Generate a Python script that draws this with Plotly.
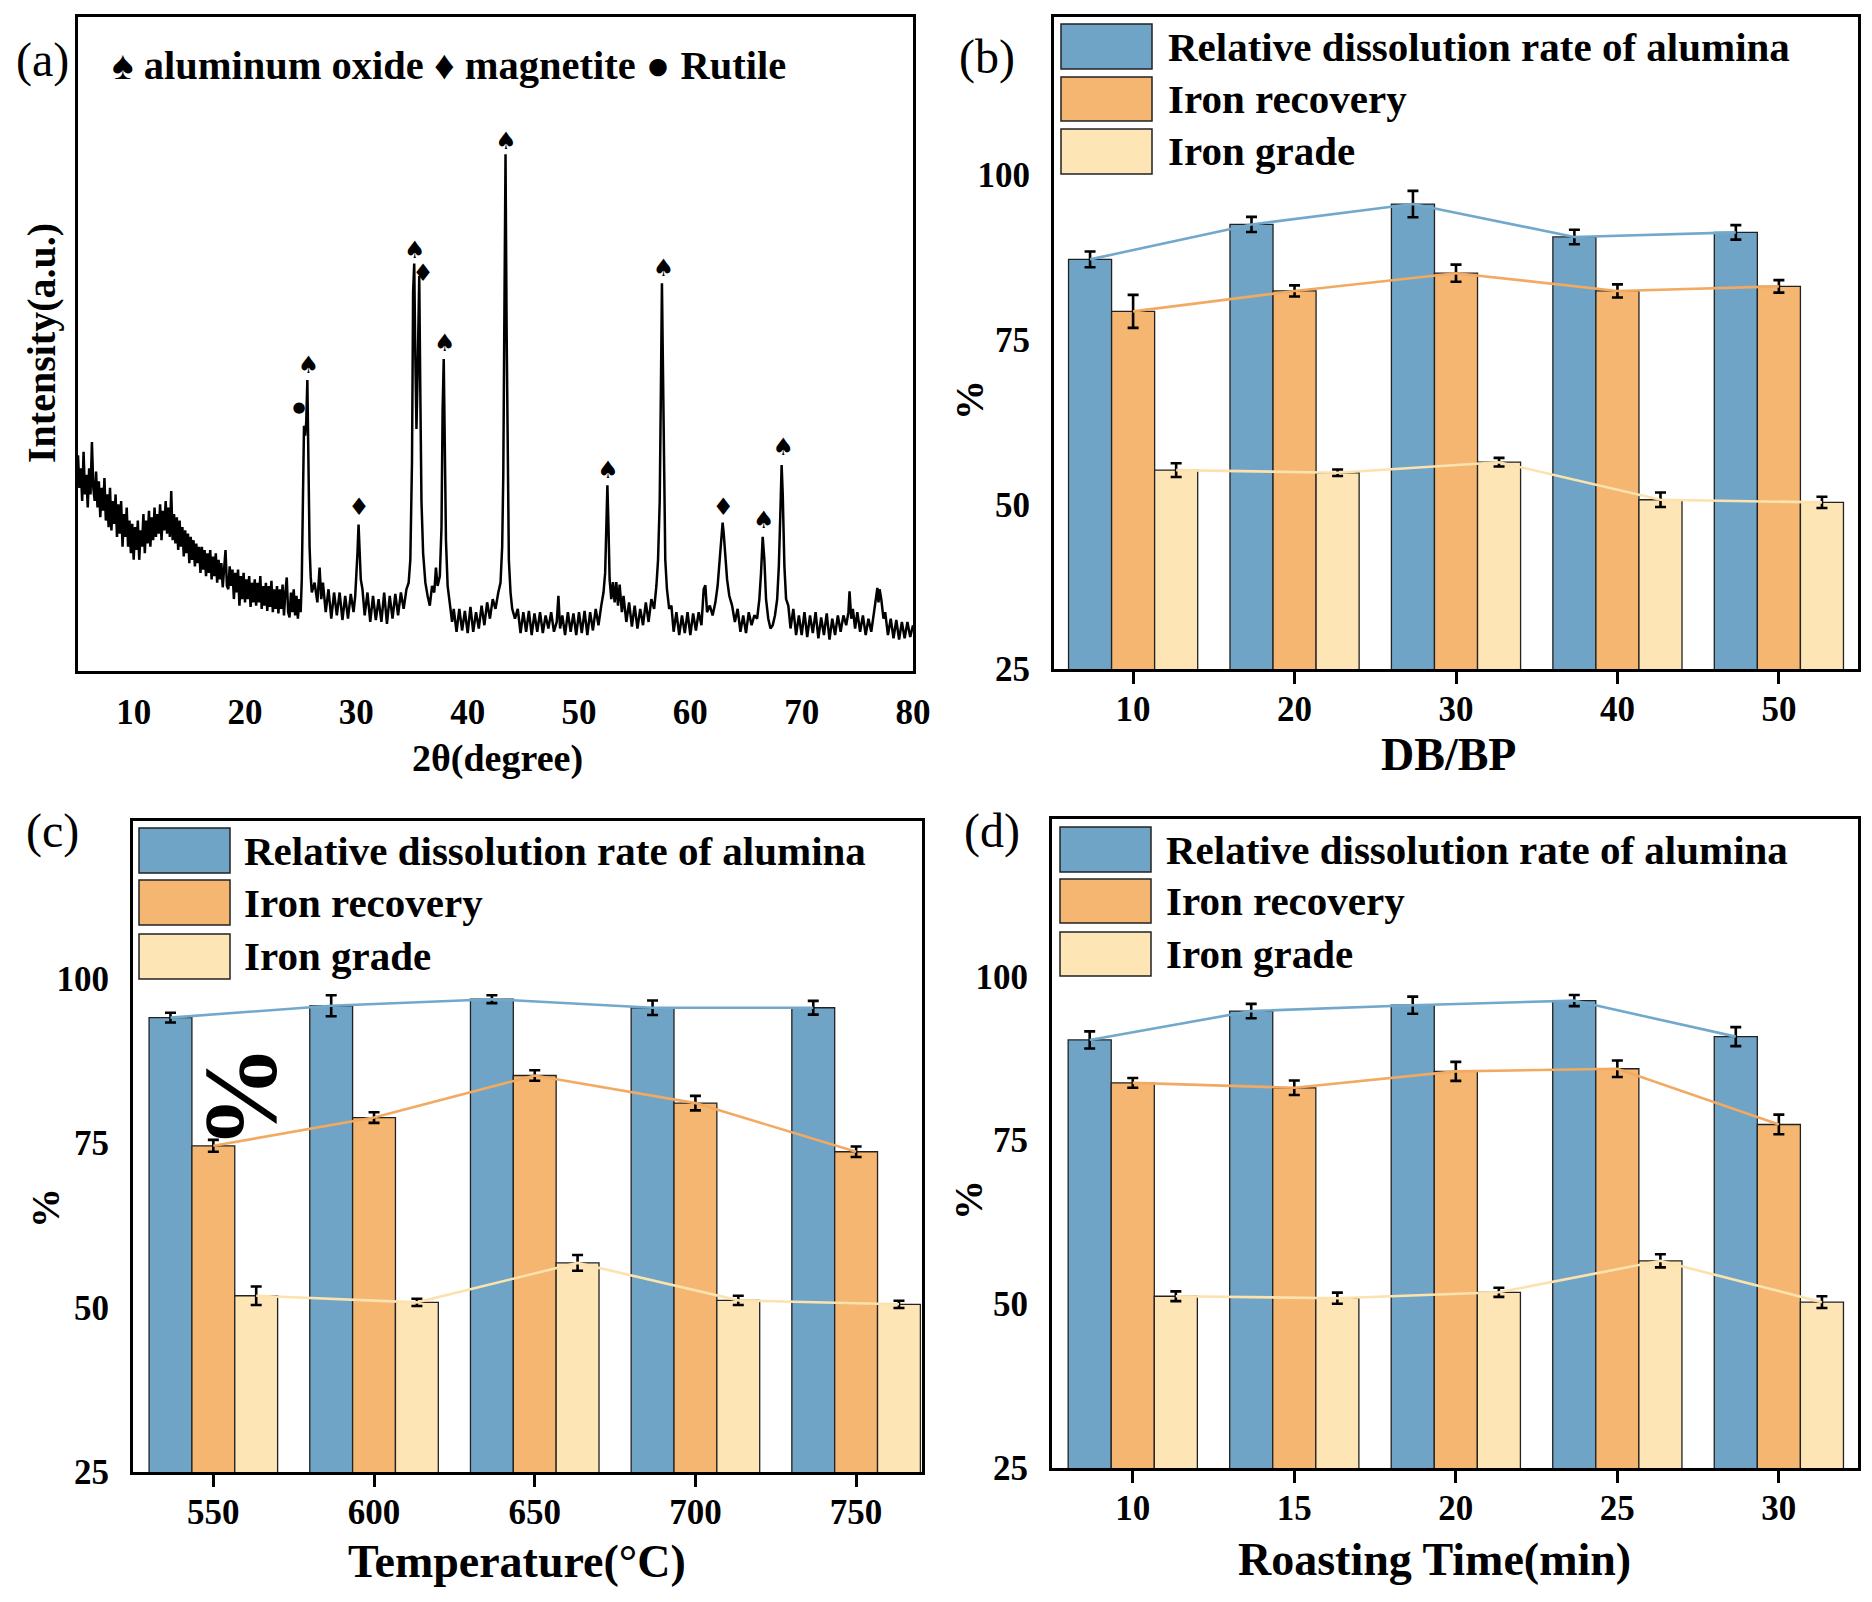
import plotly.graph_objects as go

# ---------------- DATA ----------------
# (a) XRD pattern (intensity in arbitrary units, frame = 0..100)
two_theta = [
    5.000, 5.125, 5.250, 5.375, 5.500, 5.625, 5.750, 5.875,
    6.000, 6.125, 6.250, 6.375, 6.500, 6.625, 6.750, 6.875,
    7.000, 7.125, 7.250, 7.375, 7.500, 7.625, 7.750, 7.875,
    8.000, 8.125, 8.250, 8.375, 8.500, 8.625, 8.750, 8.875,
    9.000, 9.125, 9.250, 9.375, 9.500, 9.625, 9.750, 9.875,
    10.000, 10.125, 10.250, 10.375, 10.500, 10.625, 10.750, 10.875,
    11.000, 11.125, 11.250, 11.375, 11.500, 11.625, 11.750, 11.875,
    12.000, 12.125, 12.250, 12.375, 12.500, 12.625, 12.750, 12.875,
    13.000, 13.125, 13.250, 13.375, 13.500, 13.625, 13.750, 13.875,
    14.000, 14.125, 14.250, 14.375, 14.500, 14.625, 14.750, 14.875,
    15.000, 15.125, 15.250, 15.375, 15.500, 15.625, 15.750, 15.875,
    16.000, 16.125, 16.250, 16.375, 16.500, 16.625, 16.750, 16.875,
    17.000, 17.125, 17.250, 17.375, 17.500, 17.625, 17.750, 17.875,
    18.000, 18.125, 18.250, 18.375, 18.500, 18.625, 18.750, 18.875,
    19.000, 19.125, 19.250, 19.375, 19.500, 19.625, 19.750, 19.875,
    20.000, 20.125, 20.250, 20.375, 20.500, 20.625, 20.750, 20.875,
    21.000, 21.125, 21.250, 21.375, 21.500, 21.625, 21.750, 21.875,
    22.000, 22.125, 22.250, 22.375, 22.500, 22.625, 22.750, 22.875,
    23.000, 23.125, 23.250, 23.375, 23.500, 23.625, 23.750, 23.875,
    24.000, 24.125, 24.250, 24.375, 24.500, 24.625, 24.750, 24.875,
    25.00,
    25.10, 25.20, 25.30, 25.40, 25.50, 25.60, 25.70, 25.80, 25.90, 26.00, 26.25, 26.50, 26.70, 26.85,
    27.00, 27.25, 27.50, 27.75, 28.00, 28.25, 28.50, 28.75, 29.00, 29.25, 29.50, 29.75,
    29.90, 30.00, 30.10, 30.20, 30.30, 30.40, 30.55, 30.75, 31.00, 31.25, 31.50, 31.75, 32.00, 32.25,
    32.50, 32.75, 33.00, 33.25, 33.50, 33.75, 34.00, 34.25, 34.50,
    34.70, 34.85, 35.00, 35.10, 35.20, 35.30, 35.40, 35.50, 35.65, 35.75, 35.85, 36.00, 36.20, 36.40,
    36.60, 36.80, 37.00, 37.15, 37.30, 37.50, 37.65, 37.75, 37.85, 37.95, 38.05, 38.20, 38.40, 38.60,
    38.75, 39.00, 39.25, 39.50, 39.75, 40.00, 40.25, 40.50, 40.75, 41.00, 41.25, 41.50, 41.75, 42.00,
    42.25, 42.50, 42.75,
    42.95, 43.10, 43.20, 43.30, 43.40, 43.50, 43.60, 43.70, 43.85, 44.00, 44.25,
    44.50, 44.75, 45.00, 45.25, 45.50, 45.75, 46.00, 46.25, 46.50, 46.75, 47.00, 47.25, 47.50, 47.75,
    48.00, 48.15, 48.30, 48.50, 48.75, 49.00, 49.25, 49.50, 49.75, 50.00, 50.25, 50.50, 50.75, 51.00,
    51.25, 51.50, 51.75, 52.00,
    52.20, 52.35, 52.45, 52.55, 52.65, 52.75, 52.90, 53.05, 53.20, 53.35, 53.50, 53.65, 53.85, 54.00,
    54.25, 54.50, 54.75, 55.00, 55.25, 55.50, 55.75, 56.00, 56.25, 56.50, 56.75,
    56.95, 57.10, 57.25, 57.35, 57.45, 57.55, 57.65, 57.75, 57.90, 58.10, 58.30, 58.50, 58.75, 59.00,
    59.25, 59.50, 59.75, 60.00, 60.25, 60.50, 60.75, 61.00,
    61.20, 61.35, 61.50, 61.75, 62.00, 62.25, 62.45, 62.60, 62.75, 62.90, 63.00, 63.15, 63.30, 63.50,
    63.75, 64.00, 64.25, 64.50, 64.75, 65.00, 65.25, 65.50, 65.75, 66.00,
    66.20, 66.35, 66.50, 66.65, 66.80, 67.00, 67.20, 67.40, 67.60, 67.80, 67.95, 68.10, 68.20, 68.30,
    68.45, 68.60, 68.80,
    69.00, 69.25, 69.50, 69.75, 70.00, 70.25, 70.50, 70.75, 71.00, 71.25, 71.50, 71.75, 72.00, 72.25,
    72.50, 72.75, 73.00, 73.25, 73.50, 73.75, 74.00, 74.20, 74.30, 74.45, 74.60, 74.80, 75.00, 75.25,
    75.50, 75.75, 76.00, 76.25, 76.50, 76.70, 76.80, 76.90, 77.00, 77.15, 77.35, 77.50, 77.75, 78.00,
    78.25, 78.50, 78.75, 79.00, 79.25, 79.50, 79.75, 80.00,
]
intensity = [
    33, 28, 31, 26, 33.5, 27, 30, 25,
    31, 27, 35, 28, 26, 30.5, 25, 29,
    23.5, 28, 24.5, 29.5, 23, 27, 22, 28,
    21.5, 26, 22.5, 27, 20.5, 25.5, 21, 26,
    19, 24, 20.5, 25, 19, 23, 18, 22.5,
    17, 22, 18.5, 23, 17, 21.5, 19, 24,
    18, 23, 19.5, 24.5, 19, 23.5, 20, 25,
    20.5, 24, 21, 25.5, 20, 24.5, 21.5, 26,
    21, 25, 20.5, 27.5, 20, 24, 19.5, 23.5,
    18.5, 23, 19, 22, 17.5, 21.5, 18, 21,
    16.5, 20.5, 17, 20, 16, 19.5, 16.5, 19,
    15, 19, 15.5, 18.5, 14.5, 18, 15, 18.5,
    14, 17.5, 14.5, 18, 13.5, 17, 14, 16.5,
    12.8, 16, 18.5, 13, 12.5, 16, 13, 15.5,
    11, 15, 12, 15.5, 10, 14.5, 11, 15,
    10.5, 14, 11, 14.5, 9.8, 13.5, 10.5, 14,
    10, 13.5, 10.5, 14.5, 9.5, 13, 10, 13.5,
    9.2, 13, 9.8, 13.8, 9, 12.5, 9.5, 13,
    8.8, 12.5, 9.5, 13.2, 8.5, 12, 14.3, 9,
    8.2, 12, 9, 12.5, 8.5, 11.5, 8, 11,
    9,
    14, 28, 37.5, 36, 38, 44.5, 30, 19, 14.5, 12, 13.5, 10.5, 15.8, 11,
    13.5, 9, 12.5, 8, 12, 8.5, 12, 7.8, 11.5, 8, 11.8, 9,
    11.5, 14, 18, 22.4, 18.5, 14, 12.5, 8.5, 12, 7.5, 11.5, 7.8, 11, 7.5,
    12, 7.2, 11.5, 8, 11.8, 8.5, 12, 9.5, 12.5,
    13.5, 17, 32, 58, 62.3, 48, 37, 45, 60.4, 42, 26, 18, 13.5, 11.5,
    10, 13, 12, 15.8, 13, 14.5, 22, 40, 47.7, 34, 20, 13, 10, 7.5,
    9.5, 6, 9.5, 6.2, 9.2, 5.8, 9.8, 6, 9, 6.5, 10, 7, 10.5, 8,
    11, 9.5, 12,
    13.5, 19, 30, 55, 79, 52, 28, 17, 12, 9.5, 8,
    9.5, 5.8, 9, 6, 9.2, 5.5, 8.8, 6, 9, 5.8, 8.5, 6.5, 9, 6,
    7.5, 11.5, 6.5, 8.5, 5.5, 9, 6, 8.8, 5.5, 9, 5.8, 9.2, 5.5, 9,
    6.2, 9.5, 7, 10,
    12, 15, 21, 28.4, 22, 14, 11, 13.6, 10.5, 13.6, 10, 13.2, 9, 11.5,
    7.5, 10.5, 6.8, 10, 6.5, 9.5, 7, 10.5, 7.5, 11, 9.5,
    13, 17, 26, 42, 59.3, 45, 26, 17, 12.5, 9.5, 10, 6, 9, 5.5,
    8.5, 5.8, 9, 5.5, 8.8, 6.2, 9, 7,
    12.5, 13.1, 9, 10, 8.5, 10.5, 13, 16, 20, 22.7, 21, 17, 14, 11.5,
    10, 7.5, 9.5, 6, 8.5, 5.8, 9, 7, 8.5, 8,
    11, 15, 20.5, 17, 11, 8, 6.5, 7, 8.5, 11, 16, 25, 31.5, 27,
    16, 11, 10,
    6.5, 9.5, 5.5, 8.5, 5.5, 9, 5.2, 8.5, 5.8, 9, 5, 8.2, 5.5, 8.8,
    4.8, 8, 5.5, 8.5, 6, 8.5, 7, 9, 12.2, 8, 9.5, 6.5, 9, 6,
    8.5, 5.5, 8, 6, 9, 11.5, 12.7, 10.5, 12.5, 11, 8, 9, 5.5, 8,
    5, 7.8, 4.8, 7.5, 5, 7.5, 5.2, 7,
]
assert len(two_theta) == len(intensity), (len(two_theta), len(intensity))

xrd_ticks = [10, 20, 30, 40, 50, 60, 70, 80]
mark_theta = [24.85, 25.7, 30.25, 35.25, 36.0, 37.95, 43.45, 52.6, 57.6, 62.95, 66.6, 68.35]
mark_intensity = [40.2, 46.5, 24.8, 64.0, 60.6, 49.8, 80.8, 30.5, 61.3, 24.8, 22.8, 34.0]
mark_symbol = ["●", "♠", "♦", "♠", "♦", "♠", "♠", "♠", "♠", "♦", "♠", "♠"]

series_names = ["Relative dissolution rate of alumina", "Iron recovery", "Iron grade"]

# (b) DB/BP
dbbp_labels = ["10", "20", "30", "40", "50"]
dbbp_alumina = [87.2, 92.5, 95.6, 90.6, 91.3]
dbbp_alumina_err = [1.2, 1.15, 2.0, 1.1, 1.1]
dbbp_recovery = [79.3, 82.4, 85.1, 82.4, 83.1]
dbbp_recovery_err = [2.5, 0.85, 1.3, 1.0, 0.95]
dbbp_grade = [55.2, 54.8, 56.4, 50.7, 50.3]
dbbp_grade_err = [1.05, 0.5, 0.65, 1.1, 0.85]

# (c) Temperature
temp_labels = ["550", "600", "650", "700", "750"]
temp_alumina = [94.1, 95.9, 96.9, 95.6, 95.6]
temp_alumina_err = [0.75, 1.6, 0.6, 1.1, 1.05]
temp_recovery = [74.6, 78.9, 85.3, 81.1, 73.7]
temp_recovery_err = [0.9, 0.8, 0.8, 1.1, 0.8]
temp_grade = [51.8, 50.8, 56.8, 51.1, 50.5]
temp_grade_err = [1.4, 0.55, 1.2, 0.7, 0.55]

# (d) Roasting time
time_labels = ["10", "15", "20", "25", "30"]
time_alumina = [90.3, 94.7, 95.6, 96.3, 90.8]
time_alumina_err = [1.3, 1.1, 1.3, 0.85, 1.45]
time_recovery = [83.75, 83.0, 85.5, 85.9, 77.4]
time_recovery_err = [0.75, 1.1, 1.45, 1.25, 1.5]
time_grade = [51.2, 50.9, 51.8, 56.6, 50.3]
time_grade_err = [0.75, 0.85, 0.7, 1.0, 0.9]

pct_ticks = [25, 50, 75, 100]

# ---------------- STYLE ----------------
W, H = 1872, 1602
def px(x):
    return x / W
def py(y):
    return 1 - y / H

SERIF = "Liberation Serif, Times New Roman, serif"
BAR_COLORS = ["#6FA4C6", "#F4B671", "#FDE5B5"]
LINE_COLORS = ["#72A8CC", "#F2AA62", "#FCE2AE"]
TICKFONT = dict(family=SERIF, size=35, color="black", weight="bold")

fig = go.Figure()

# ---- panel (a) ----
fig.add_trace(go.Scatter(x=two_theta, y=intensity, mode="lines",
                         line=dict(color="black", width=2.5),
                         xaxis="x", yaxis="y", showlegend=False, hoverinfo="skip"))
fig.add_trace(go.Scatter(x=mark_theta, y=mark_intensity, mode="text", text=mark_symbol,
                         textfont=dict(family="DejaVu Sans", color="black",
                                       size=[15 if s == "●" else 24 for s in mark_symbol]),
                         textposition="middle center",
                         xaxis="x", yaxis="y", showlegend=False, hoverinfo="skip"))

def frame(**kw):
    d = dict(showline=True, linecolor="black", linewidth=3, mirror=True, automargin=False,
             showgrid=False, zeroline=False, tickfont=TICKFONT)
    d.update(kw)
    return d

layout_axes = {}
layout_axes["xaxis"] = frame(domain=[px(78), px(913)], range=[5, 80], tickvals=xrd_ticks,
                             ticks="", ticklabelstandoff=8, anchor="y")
layout_axes["yaxis"] = frame(domain=[py(671), py(17)], range=[0, 100], showticklabels=False,
                             ticks="", anchor="x")

# ---- bar panels ----
panels = [
    dict(n=2, xdom=(1054, 1858), ydom=(17, 669), xr=[-0.49, 4.49], labels=dbbp_labels,
         vals=[dbbp_alumina, dbbp_recovery, dbbp_grade],
         errs=[dbbp_alumina_err, dbbp_recovery_err, dbbp_grade_err]),
    dict(n=3, xdom=(133, 922), ydom=(821, 1472), xr=[-0.5, 4.41], labels=temp_labels,
         vals=[temp_alumina, temp_recovery, temp_grade],
         errs=[temp_alumina_err, temp_recovery_err, temp_grade_err]),
    dict(n=4, xdom=(1052, 1858), ydom=(819, 1468), xr=[-0.5, 4.49], labels=time_labels,
         vals=[time_alumina, time_recovery, time_grade],
         errs=[time_alumina_err, time_recovery_err, time_grade_err]),
]

BW = 0.8 / 3
offsets = [-0.4, -0.4 + BW, -0.4 + 2 * BW]

for p in panels:
    n = p["n"]
    xa, ya = f"x{n}", f"y{n}"
    idx = list(range(len(p["labels"])))
    for k in range(3):
        fig.add_trace(go.Bar(x=idx, y=p["vals"][k], width=BW, offset=offsets[k],
                             marker=dict(color=BAR_COLORS[k], line=dict(color="#222222", width=1.3)),
                             error_y=dict(type="data", array=p["errs"][k], color="black",
                                          thickness=2.6, width=5.5),
                             xaxis=xa, yaxis=ya, showlegend=False, hoverinfo="skip"))
    for k in range(3):
        fig.add_trace(go.Scatter(x=[i + offsets[k] + BW / 2 for i in idx], y=p["vals"][k],
                                 mode="lines", line=dict(color=LINE_COLORS[k], width=2.6),
                                 xaxis=xa, yaxis=ya, showlegend=False, hoverinfo="skip"))
    layout_axes[f"xaxis{n}"] = frame(domain=[px(p["xdom"][0]), px(p["xdom"][1])], range=p["xr"],
                                     tickvals=idx, ticktext=p["labels"], ticks="outside",
                                     ticklen=12, tickwidth=2.6, tickcolor="black",
                                     ticklabelstandoff=-5, anchor=ya)
    layout_axes[f"yaxis{n}"] = frame(domain=[py(p["ydom"][1]), py(p["ydom"][0])], range=[25, 124],
                                     tickvals=pct_ticks, ticks="", ticklabelstandoff=14, anchor=xa)

# ---- legends (manual, large swatches) ----
shapes = []
annotations = []
legend_boxes = [
    (1061, 1152, [(24, 69), (77, 121), (129, 174)], 1166),
    (139, 230, [(828, 873), (880, 925), (934, 979)], 242),
    (1060, 1151, [(827, 872), (879, 923), (932, 976)], 1164),
]
for x0, x1, rows, tx in legend_boxes:
    for k, (y0, y1) in enumerate(rows):
        shapes.append(dict(type="rect", xref="paper", yref="paper", x0=px(x0), x1=px(x1),
                           y0=py(y1), y1=py(y0), fillcolor=BAR_COLORS[k],
                           line=dict(color="#222222", width=1.5)))
        annotations.append(dict(xref="paper", yref="paper", x=px(tx), y=py((y0 + y1) / 2),
                                xanchor="left", yanchor="middle", showarrow=False,
                                text=series_names[k],
                                font=dict(family=SERIF, size=41, color="black", weight="bold")))

def label(text, x, y, size, bold=True, angle=0, anchor="center"):
    annotations.append(dict(xref="paper", yref="paper", x=px(x), y=py(y), xanchor=anchor,
                            yanchor="middle", showarrow=False, text=text, textangle=angle,
                            font=dict(family=SERIF, size=size, color="black",
                                      weight="bold" if bold else "normal")))

# panel labels
label("(a)", 42, 60, 48, bold=False)
label("(b)", 987, 57, 48, bold=False)
label("(c)", 52, 831, 48, bold=False)
label("(d)", 992, 831, 48, bold=False)

# panel (a) legend line
label("♠ aluminum oxide ♦ magnetite ● Rutile", 110, 66, 40.5, anchor="left")

# axis titles
label("2θ(degree)", 497, 759, 38)
label("Intensity(a.u.)", 42, 343, 40, angle=-90)
label("DB/BP", 1448, 755, 46)
label("%", 970, 400, 40, angle=-90)
label("Temperature(°C)", 517, 1561, 46)
label("%", 45, 1208, 40, angle=-90)
label("Roasting Time(min)", 1434, 1559, 46)
label("%", 968, 1200, 40, angle=-90)
# stray enlarged % in panel (c)
label("%", 240, 1097, 104, angle=-90)

fig.update_layout(
    width=W, height=H,
    margin=dict(l=0, r=0, t=0, b=0, pad=0, autoexpand=False),
    paper_bgcolor="white", plot_bgcolor="white",
    barmode="overlay",
    shapes=shapes, annotations=annotations,
    **layout_axes,
)

fig.write_html("out.html")
